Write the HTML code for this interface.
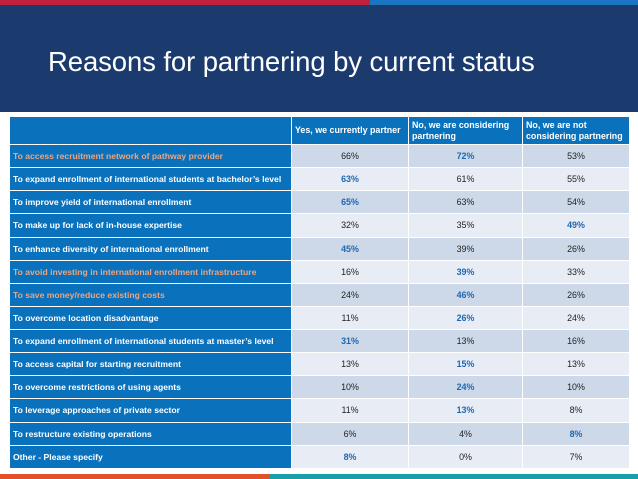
<!DOCTYPE html>
<html><head><meta charset="utf-8"><style>
body{margin:0;width:638px;height:479px;position:relative;background:#fff;font-family:"Liberation Sans",sans-serif;overflow:hidden}
.bar{position:absolute;height:5px}
#hdr{position:absolute;left:0;top:5px;width:638px;height:107px;background:#1b3b6f}
#title{position:absolute;left:48px;top:41px;color:#fff;font-size:27.5px;letter-spacing:-0.1px}
table{position:absolute;left:9px;top:116px;width:620px;border-collapse:collapse;table-layout:fixed}
td{border:1px solid #fff;font-size:8.9px;padding:0 3px;height:23.14px;box-sizing:border-box;white-space:nowrap;overflow:hidden}
tr.h td{height:28px;background:#0a72bd;color:#fff;font-weight:bold;line-height:11px;white-space:normal}
td.l{background:#0a72bd;color:#fff;font-weight:bold;font-size:8.6px}
td.l.o{color:#f0a47c}
td.v{text-align:center;color:#222}
tr:nth-child(even) td.v{background:#cdd8e9}
tr:nth-child(odd) td.v{background:#e8ecf4}
td.b{color:#1f67b0 !important;font-weight:bold}
</style></head><body>
<div class="bar" style="left:0;top:0;width:370px;background:#c0213f"></div>
<div class="bar" style="left:370px;top:0;width:268px;background:#1a75c2"></div>
<div id="hdr"><div id="title">Reasons for partnering by current status</div></div>
<table>
<colgroup><col style="width:282px"><col style="width:117px"><col style="width:114px"><col style="width:107px"></colgroup>
<tbody id="tb"><tr class="h"><td></td><td>Yes, we currently partner</td><td>No, we are considering partnering</td><td>No, we are not considering partnering</td></tr></tbody>
</table>
<div class="bar" style="left:0;top:474px;width:269px;background:#e2512a"></div>
<div class="bar" style="left:269px;top:474px;width:369px;background:#16a0a8"></div>
<script>
const reasons=["To access recruitment network of pathway provider","To expand enrollment of international students at bachelor’s level","To improve yield of international enrollment","To make up for lack of in-house expertise","To enhance diversity of international enrollment","To avoid investing in international enrollment infrastructure","To save money/reduce existing costs","To overcome location disadvantage","To expand enrollment of international students at master’s level","To access capital for starting recruitment","To overcome restrictions of using agents","To leverage approaches of private sector","To restructure existing operations","Other - Please specify"];
const orange=[0,5,6];
const yes=[66,63,65,32,45,16,24,11,31,13,10,11,6,8];
const considering=[72,61,63,35,39,39,46,26,13,15,24,13,4,0];
const notConsidering=[53,55,54,49,26,33,26,24,16,13,10,8,8,7];
const bold=[1,0,0,2,0,1,1,1,0,1,1,1,2,0];
const tb=document.getElementById('tb');
reasons.forEach((r,i)=>{
 const tr=document.createElement('tr');
 
 
 const l=document.createElement('td');
 l.className='l'+(orange.includes(i)?' o':'');
 l.textContent=r;
 
 
 tr.appendChild(l);
 [yes[i],considering[i],notConsidering[i]].forEach((v,j)=>{
  const td=document.createElement('td');
  td.className='v'+(bold[i]===j?' b':'');
  td.textContent=v+'%';
  
  
  tr.appendChild(td);
 });
 tb.appendChild(tr);
});
</script>
</body></html>
